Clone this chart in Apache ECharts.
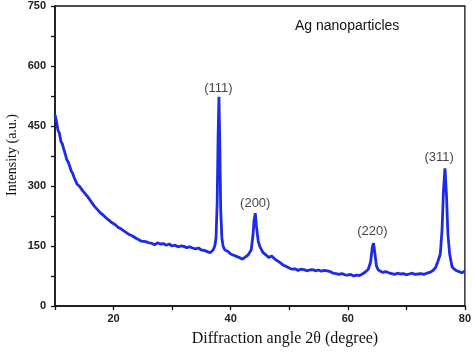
<!DOCTYPE html>
<html><head><meta charset="utf-8">
<script src="https://cdn.jsdelivr.net/npm/echarts@6/dist/echarts.min.js"></script>
<style>html,body{margin:0;padding:0;background:#fff}#c{width:474px;height:358px}</style>
</head><body><div id="c"></div>
<script>
var angles = [
 10,10.25,10.5,10.75,11,11.25,11.5,11.75,12,12.25,
 12.5,12.75,13,13.25,13.5,13.75,14,14.25,14.5,14.75,
 15,15.25,15.5,15.75,16,16.25,16.5,16.75,17,17.25,
 17.5,17.75,18,18.25,18.5,18.75,19,19.25,19.5,19.75,
 20,20.25,20.5,20.75,21,21.25,21.5,21.75,22,22.25,
 22.5,22.75,23,23.25,23.5,23.75,24,24.25,24.5,24.75,
 25,25.5,26,26.5,27,27.5,28,28.5,29,29.5,
 30,30.5,31,31.5,32,32.5,33,33.5,34,34.5,
 35,35.5,36,36.5,37,37.3,37.5,37.7,37.85,38,
 38.15,38.3,38.5,38.7,39,39.5,40,40.5,41,41.5,
 42,42.5,43,43.5,43.8,44,44.2,44.4,44.7,45,
 45.5,46,46.5,47,47.5,48,48.5,49,49.5,50,
 50.5,51,51.5,52,52.5,53,53.5,54,54.5,55,
 55.5,56,56.5,57,57.5,58,58.5,59,59.5,60,
 60.5,61,61.5,62,62.5,63,63.5,63.9,64.2,64.4,
 64.6,64.9,65.2,65.5,66,66.5,67,67.5,68,68.5,
 69,69.5,70,70.5,71,71.5,72,72.5,73,73.5,
 74,74.5,75,75.4,75.8,76.1,76.35,76.6,76.85,77.1,
 77.4,77.8,78.2,78.6,79,79.5,80];
var intensity = [
 478,462,440,432,412,405,392,380,366,360,
 350,338,332,322,318,305,309,298,300,288,
 291,279,282,270,266,259,256,249,251,241,
 243,233,236,227,229,220,223,214,218,208,
 212,204,206,197,199,193,194,188,190,183,
 185,178,181,175,177,170,173,166,169,162,
 164,161,158,157,153,158,155,156,152,155,
 150,152,148,150,149,146,148,145,143,145,
 140,139,136,133,140,150,170,260,420,523,
 400,240,170,150,140,137,130,127,124,121,
 117,122,128,140,175,215,232,200,162,148,
 134,128,121,125,118,113,108,102,99,95,
 92,93,89,92,91,88,90,91,88,90,
 87,89,88,86,82,81,79,81,78,77,
 79,75,77,76,80,85,92,110,148,157,
 135,100,90,87,84,86,83,81,79,82,
 80,81,78,80,82,79,80,81,79,82,
 84,88,96,112,130,190,290,344,280,180,
 130,98,92,88,86,83,88];
var peakLabels = ['(111)','(200)','(220)','(311)'];
var peakLabelX = [37.9,44.2,64.2,75.6];
var peakLabelY = [545,257,186,372];
var yTicks = [0,150,300,450,600,750];
var xTicks = [20,40,60,80];

var chart = echarts.init(document.getElementById('c'), null, {renderer:'canvas'});
var pts = angles.map(function(a,i){return [a,intensity[i]];});
var labelPts = peakLabels.map(function(t,i){return {value:[peakLabelX[i],peakLabelY[i]],name:t};});
chart.setOption({
  animation:false,
  backgroundColor:'#fff',
  grid:{left:55,right:9,top:6,bottom:52,show:true,borderColor:'#111',borderWidth:1.3,backgroundColor:'transparent'},
  xAxis:{type:'value',min:10,max:80,interval:10,
    axisLine:{show:true,onZero:false,lineStyle:{color:'#111',width:1.5}},
    axisTick:{show:true,inside:false,length:4,lineStyle:{color:'#111',width:1.3}},
    splitLine:{show:false},
    axisLabel:{margin:7,color:'#222',fontFamily:'Arial, Liberation Sans, sans-serif',fontWeight:'bold',fontSize:11,
      formatter:function(v){return xTicks.indexOf(v)>=0?String(v):'';}}},
  yAxis:{type:'value',min:0,max:750,interval:75,
    axisLine:{show:true,lineStyle:{color:'#111',width:1.5}},
    axisTick:{show:true,inside:false,length:4,lineStyle:{color:'#111',width:1.3}},
    splitLine:{show:false},
    axisLabel:{margin:9,color:'#222',fontFamily:'Arial, Liberation Sans, sans-serif',fontWeight:'bold',fontSize:11,
      formatter:function(v){return yTicks.indexOf(v)>=0?String(v):'';}}},
  series:[
    {type:'line',data:pts,symbol:'none',smooth:false,lineStyle:{color:'#1d2be6',width:2.8},z:3},
    {type:'scatter',data:labelPts,symbolSize:0,silent:true,
      label:{show:true,position:'inside',formatter:function(p){return p.name;},color:'#111',fontSize:13,fontFamily:'Arial, Liberation Sans, sans-serif'}}
  ],
  graphic:[
    {type:'text',left:295,top:19,style:{text:'Ag nanoparticles',fill:'#111',font:'14px Arial, "Liberation Sans", sans-serif'}},
    {type:'text',x:12,y:155,rotation:Math.PI/2,style:{text:'Intensity (a.u.)',fill:'#111',font:'14px "Liberation Serif", "Times New Roman", serif',align:'center',verticalAlign:'middle'}},
    {type:'text',x:285,y:339,style:{text:'Diffraction angle 2θ (degree)',fill:'#111',font:'16px "Liberation Serif", "Times New Roman", serif',align:'center',verticalAlign:'middle'}}
  ]
});
</script></body></html>
